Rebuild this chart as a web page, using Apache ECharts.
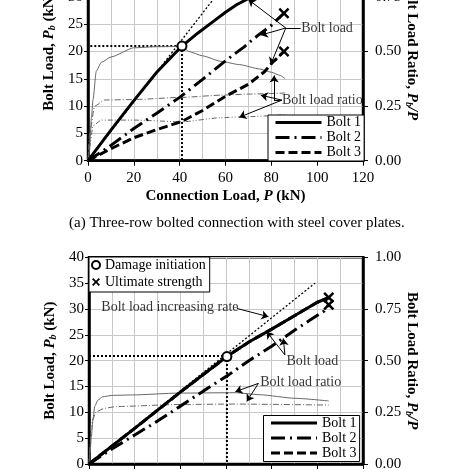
<!DOCTYPE html>
<html>
<head>
<meta charset="utf-8">
<script src="https://cdn.jsdelivr.net/npm/echarts@6/dist/echarts.min.js"></script>
<style>
  html, body { margin: 0; padding: 0; background: #fff; }
  #chart { width: 474px; height: 474px; }
</style>
</head>
<body>
<div id="chart"></div>
<script>
// (a) three-row connection: bolt load P_b vs connection load P (kN)
const topBolt1 = [[0,0],[10,5.6],[20,11],[30,16.2],[41,21],[48,23.4],[55,25.6],[60,27.2],[65,28.6],[70,29.7],[78,31.2],[86,32.3]];
const topBolt2 = [[0,0],[10,2.8],[20,5.9],[30,8.7],[40,11.6],[50,14.9],[60,18.3],[68,20.8],[74,22.9],[80,24.8],[85.5,27]];
const topBolt3 = [[0,0],[10,2.2],[20,4.2],[30,5.7],[41,7.2],[50,9.2],[60,11.8],[65,12.9],[70,14],[77,16.3],[80.5,18],[85.5,20]];
// bolt load ratio P_b/P (right axis)
const topRatio1 = [[0,0],[0.7,0.05],[1.5,0.2],[2.2,0.28],[3.6,0.41],[5.8,0.45],[10,0.475],[20,0.517],[30,0.522],[41,0.523],[44,0.5],[50,0.48],[58,0.455],[66,0.44],[75,0.42],[80,0.405],[84,0.39],[86,0.375]];
const topRatio2 = [[0,0],[0.7,0.125],[2.9,0.25],[7.3,0.278],[20,0.28],[41,0.29],[58,0.3],[70,0.305],[86,0.31]];
const topRatio3 = [[0,0],[0.7,0.065],[2.2,0.16],[5.8,0.186],[20,0.186],[41,0.178],[58,0.197],[66,0.2],[86,0.21]];
const topInit = [[41,21]];
const topUlt = [[85.5,27],[85.5,20],[86,32.3]];
const topRate = [[0,0],[74,40]];
const topInitH = [[1,21],[41,21]];
const topInitV = [[41,21],[41,0]];

// (b) second connection
const botBolt1 = [[0,0],[20,6.9],[40,13.9],[60.4,20.8],[70,23.6],[80,26.1],[90,28.7],[100,31.3],[105,32.2]];
const botBolt2 = [[0,0],[10,2.9],[20,5.6],[30,8.3],[40,11.2],[50,14.1],[61,17.2],[70,20],[80,22.8],[90,25.9],[97,27.9],[103,29.6],[105,30.8]];
const botBolt3 = [[0,0],[20,6.9],[40,13.9],[60.4,20.8],[70,23.6],[80,26.1],[90,28.7],[100,31.3],[105,32.2]];
const botRatio1 = [[0,0],[0.5,0.06],[1,0.13],[1.8,0.22],[2.5,0.28],[4,0.31],[6,0.325],[10,0.332],[19,0.334],[39,0.343],[64,0.345],[75,0.335],[90,0.318],[105,0.305]];
const botRatio2 = [[0,0],[0.5,0.1],[1,0.2],[3.2,0.253],[7,0.27],[12,0.278],[40,0.288],[64,0.29],[105,0.285]];
const botInit = [[60.4,20.8]];
const botUlt = [[105,32.2],[105,30.8]];
const botRate = [[0,0],[99,35]];
const botInitH = [[0,20.9],[60.4,20.9]];
const botInitV = [[60.4,20.9],[60.4,0]];

// annotations: [x, y, text] and pointer lines
const topNotes = [[93,24.3,'Bolt load'],[84.6,11.1,'Bolt load ratio']];
const topArrows = [
  [[86.3,24.3],[70,29.5]],
  [[86.3,24.3],[75.4,23.0]],
  [[86.3,24.3],[79.7,17.6]],
  [[84.6,11.1],[75.4,12.0]],
  [[84.6,11.1],[66,7.95]],
  [[81.2,11.1],[81.2,15.6]]
];
const topLeaders = [[[86.3,24.3],[92.8,24.3]],[[81.2,11.1],[84.6,11.1]]];
const botNotes = [[5.4,30.4,'Bolt load increasing rate'],[86.5,19.9,'Bolt load'],[75,15.8,'Bolt load ratio']];
const botArrows = [
  [[64.8,30.1],[78.6,28.5]],
  [[85.8,21.1],[77.8,25.6]],
  [[85.8,21.1],[85.1,24.3]],
  [[74.2,15.6],[64.1,14.0]],
  [[74.2,15.6],[69.1,12.1]]
];

const FONT = "Liberation Serif";
const chart = echarts.init(document.getElementById("chart"));

const xPath = "path://M0,1.6L1.6,0L5,3.4L8.4,0L10,1.6L6.6,5L10,8.4L8.4,10L5,6.6L1.6,10L0,8.4L3.4,5Z";

const nameRich = {
  b: { fontFamily: FONT, fontWeight: "bold", fontSize: 15, lineHeight: 16, color: "#000" },
  i: { fontFamily: FONT, fontWeight: "bold", fontStyle: "italic", fontSize: 15, lineHeight: 16, color: "#000" },
  s: { fontFamily: FONT, fontWeight: "bold", fontStyle: "italic", fontSize: 10, lineHeight: 6, verticalAlign: "bottom", color: "#000" }
};

const gridLine = { show: true, lineStyle: { color: "#c8c8c8", width: 1 } };

function xAxisCfg(gi, withName) {
  return {
    gridIndex: gi, type: "value", min: 0, max: 120, interval: 20,
    axisLine: { show: true, onZero: false, lineStyle: { color: "#000", width: 2.5 } },
    axisTick: { show: true, length: 5, lineStyle: { color: "#000", width: 1 } },
    minorTick: { show: false, splitNumber: 2 },
    minorSplitLine: gridLine,
    splitLine: gridLine,
    axisLabel: { color: "#000", fontFamily: FONT, fontSize: 15, margin: 10 },
    name: withName ? "{b|Connection Load, }{i|P}{b| (kN)}" : "",
    nameLocation: "middle", nameGap: 27, nameMoveOverlap: false,
    nameTextStyle: { rich: nameRich }
  };
}
function leftAxisCfg(gi) {
  return {
    gridIndex: gi, type: "value", min: 0, max: 40, interval: 5,
    axisLine: { show: true, onZero: false, lineStyle: { color: "#000", width: 2.5 } },
    axisTick: { show: true, length: 4, lineStyle: { color: "#000", width: 1 } },
    splitLine: gridLine,
    axisLabel: { color: "#000", fontFamily: FONT, fontSize: 15, margin: 5 },
    name: "{b|Bolt Load, }{i|P}{s|b}{b| (kN)}",
    nameLocation: "middle", nameGap: 31, nameRotate: 90, nameMoveOverlap: false,
    nameTextStyle: { rich: nameRich }
  };
}
function rightAxisCfg(gi) {
  return {
    gridIndex: gi, type: "value", position: "right", min: 0, max: 1, interval: 0.25,
    axisLine: { show: true, onZero: false, lineStyle: { color: "#000", width: 2.5 } },
    axisTick: { show: true, length: 5, lineStyle: { color: "#000", width: 1 } },
    splitLine: { show: false },
    axisLabel: { color: "#000", fontFamily: FONT, fontSize: 15, margin: 12, formatter: v => v.toFixed(2) },
    name: "{b|Bolt Load Ratio, }{i|P}{s|b}{i|/P}",
    nameLocation: "middle", nameGap: 41, nameRotate: -90, nameMoveOverlap: false,
    nameTextStyle: { rich: nameRich }
  };
}

function boltLine(name, data, gi, type, z) {
  return {
    name: name, type: "line", data: data, xAxisIndex: gi, yAxisIndex: gi * 2,
    symbol: "none", smooth: false, z: z || 3,
    itemStyle: { color: "#000" },
    lineStyle: { color: "#000", width: 3, type: type }
  };
}
function ratioLine(name, data, gi, type) {
  return {
    name: name, type: "line", data: data, xAxisIndex: gi, yAxisIndex: gi * 2 + 1,
    symbol: "none", smooth: 0.2, smoothMonotone: "x",
    lineStyle: { color: "#666", width: 1, type: type }
  };
}
function refLine(data, gi, width) {
  return {
    type: "line", data: data, xAxisIndex: gi, yAxisIndex: gi * 2, symbol: "none",
    lineStyle: { color: "#000", width: width, type: [2, 2] }, z: 2
  };
}
function notes(data, gi) {
  return {
    type: "scatter", data: data, xAxisIndex: gi, yAxisIndex: gi * 2, symbolSize: 0, z: 6,
    label: { show: true, position: "right", distance: 0, formatter: p => p.data[2],
      color: "#000", fontFamily: FONT, fontSize: 14 }
  };
}
function pointers(data, gi, arrow) {
  return {
    type: "lines", coordinateSystem: "cartesian2d", xAxisIndex: gi, yAxisIndex: gi * 2,
    data: data.map(c => ({ coords: c })), z: 5,
    symbol: arrow ? ["none", "arrow"] : ["none", "none"], symbolSize: [0, 7],
    lineStyle: { color: "#000", width: 1, opacity: 1 }
  };
}
function initMarker(data, gi) {
  return {
    name: "Damage initiation", type: "scatter", data: data, xAxisIndex: gi, yAxisIndex: gi * 2,
    symbol: "circle", symbolSize: 9, z: 7,
    itemStyle: { color: "#ffffff", borderColor: "#000", borderWidth: 2, opacity: 1 }
  };
}
function ultMarker(data, gi) {
  return {
    name: "Ultimate strength", type: "scatter", data: data, xAxisIndex: gi, yAxisIndex: gi * 2,
    symbol: xPath, symbolSize: 11, z: 7, itemStyle: { color: "#000", opacity: 1 }
  };
}

const boltLegend = (left, top) => ({
  data: ["Bolt 1", "Bolt 2", "Bolt 3"], orient: "vertical", left: left, top: top,
  itemWidth: 46, itemHeight: 10, itemGap: 0, padding: [0, 3, 1, 6],
  backgroundColor: "#fff", borderColor: "#000", borderWidth: 1, borderRadius: 0,
  itemStyle: { opacity: 0 },
  lineStyle: { width: 3 },
  textStyle: { color: "#000", fontFamily: FONT, fontSize: 14, lineHeight: 15 },
  selectedMode: false
});

chart.setOption({
  animation: false,
  backgroundColor: "#fff",
  title: {
    text: "(a) Three-row bolted connection with steel cover plates.",
    left: 69, top: 216, padding: 0,
    textStyle: { color: "#000", fontFamily: FONT, fontSize: 15, fontWeight: "normal" }
  },
  grid: [
    { left: 88, top: -57.7, width: 275, height: 218.4, show: true, borderColor: "#000", borderWidth: 2.5, containLabel: false, outerBoundsMode: "none" },
    { left: 89, top: 257.3, width: 274, height: 206.7, show: true, borderColor: "#000", borderWidth: 2.5, containLabel: false, outerBoundsMode: "none" }
  ],
  xAxis: [xAxisCfg(0, true), xAxisCfg(1, false)],
  yAxis: [leftAxisCfg(0), rightAxisCfg(0), leftAxisCfg(1), rightAxisCfg(1)],
  legend: [
    boltLegend(268, 115),
    boltLegend(263.5, 415.5),
    {
      data: ["Damage initiation", "Ultimate strength"], orient: "vertical", left: 89, top: 257,
      itemWidth: 8, itemHeight: 8, itemGap: 1, padding: [0, 4, 2, 2],
      backgroundColor: "#fff", borderColor: "#000", borderWidth: 1, borderRadius: 0,
      textStyle: { color: "#000", fontFamily: FONT, fontSize: 14, lineHeight: 16 },
      selectedMode: false
    }
  ],
  series: [
    refLine(topRate, 0, 1.3), refLine(topInitH, 0, 2), refLine(topInitV, 0, 2),
    ratioLine("r1", topRatio1, 0, "solid"),
    ratioLine("r2", topRatio2, 0, [6, 2, 1, 2]),
    ratioLine("r3", topRatio3, 0, [5, 2, 1, 2, 1, 2]),
    boltLine("Bolt 3", topBolt3, 0, [9, 4]),
    boltLine("Bolt 2", topBolt2, 0, [14, 5, 2, 5]),
    boltLine("Bolt 1", topBolt1, 0, "solid"),
    pointers(topArrows, 0, true), pointers(topLeaders, 0, false),
    notes(topNotes, 0),
    initMarker(topInit, 0), ultMarker(topUlt, 0),

    refLine(botRate, 1, 1.3), refLine(botInitH, 1, 2), refLine(botInitV, 1, 2),
    ratioLine("r1b", botRatio1, 1, "solid"),
    ratioLine("r2b", botRatio2, 1, [6, 2, 1, 2]),
    boltLine("Bolt 3", botBolt3, 1, [9, 4], 2),
    boltLine("Bolt 2", botBolt2, 1, [14, 5, 2, 5]),
    boltLine("Bolt 1", botBolt1, 1, "solid"),
    pointers(botArrows, 1, true),
    notes(botNotes, 1),
    initMarker(botInit, 1), ultMarker(botUlt, 1)
  ]
});
</script>
</body>
</html>
